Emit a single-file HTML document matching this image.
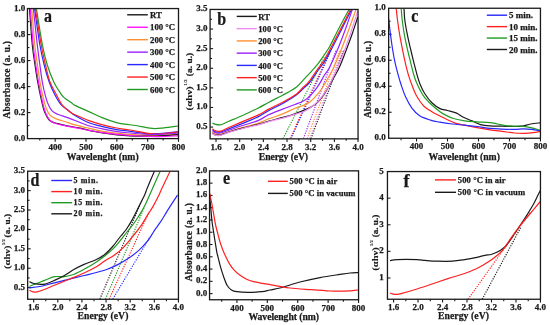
<!DOCTYPE html>
<html><head><meta charset="utf-8"><style>
html,body{margin:0;padding:0;background:#fff;width:550px;height:325px;overflow:hidden}
svg{display:block;will-change:transform;filter:blur(0.3px)}
text{font-family:"Liberation Serif",serif;font-weight:bold;fill:#1a1a1a;stroke:#1a1a1a;stroke-width:0.25px}
</style></head><body>
<svg xmlns="http://www.w3.org/2000/svg" width="550" height="325" viewBox="0 0 550 325">
<text x="55.19" y="149.80" font-size="9" text-anchor="middle" >400</text>
<text x="86.02" y="149.80" font-size="9" text-anchor="middle" >500</text>
<text x="116.85" y="149.80" font-size="9" text-anchor="middle" >600</text>
<text x="147.67" y="149.80" font-size="9" text-anchor="middle" >700</text>
<text x="178.50" y="149.80" font-size="9" text-anchor="middle" >800</text>
<text x="25.15" y="140.60" font-size="9" text-anchor="end" >0.0</text>
<text x="25.15" y="114.59" font-size="9" text-anchor="end" >0.2</text>
<text x="25.15" y="88.58" font-size="9" text-anchor="end" >0.4</text>
<text x="25.15" y="62.57" font-size="9" text-anchor="end" >0.6</text>
<text x="25.15" y="36.56" font-size="9" text-anchor="end" >0.8</text>
<text x="25.15" y="10.55" font-size="9" text-anchor="end" >1.0</text>
<line x1="55.19" y1="138.60" x2="55.19" y2="141.80" stroke="#1a1a1a" stroke-width="1.1"/>
<line x1="86.02" y1="138.60" x2="86.02" y2="141.80" stroke="#1a1a1a" stroke-width="1.1"/>
<line x1="116.85" y1="138.60" x2="116.85" y2="141.80" stroke="#1a1a1a" stroke-width="1.1"/>
<line x1="147.67" y1="138.60" x2="147.67" y2="141.80" stroke="#1a1a1a" stroke-width="1.1"/>
<line x1="178.50" y1="138.60" x2="178.50" y2="141.80" stroke="#1a1a1a" stroke-width="1.1"/>
<line x1="39.78" y1="138.60" x2="39.78" y2="140.58" stroke="#1a1a1a" stroke-width="1.1"/>
<line x1="70.61" y1="138.60" x2="70.61" y2="140.58" stroke="#1a1a1a" stroke-width="1.1"/>
<line x1="101.43" y1="138.60" x2="101.43" y2="140.58" stroke="#1a1a1a" stroke-width="1.1"/>
<line x1="132.26" y1="138.60" x2="132.26" y2="140.58" stroke="#1a1a1a" stroke-width="1.1"/>
<line x1="163.09" y1="138.60" x2="163.09" y2="140.58" stroke="#1a1a1a" stroke-width="1.1"/>
<line x1="27.45" y1="112.59" x2="30.45" y2="112.59" stroke="#1a1a1a" stroke-width="1.1"/>
<line x1="27.45" y1="86.58" x2="30.45" y2="86.58" stroke="#1a1a1a" stroke-width="1.1"/>
<line x1="27.45" y1="60.57" x2="30.45" y2="60.57" stroke="#1a1a1a" stroke-width="1.1"/>
<line x1="27.45" y1="34.56" x2="30.45" y2="34.56" stroke="#1a1a1a" stroke-width="1.1"/>
<line x1="27.45" y1="125.59" x2="29.40" y2="125.59" stroke="#1a1a1a" stroke-width="1.1"/>
<line x1="27.45" y1="99.59" x2="29.40" y2="99.59" stroke="#1a1a1a" stroke-width="1.1"/>
<line x1="27.45" y1="73.58" x2="29.40" y2="73.58" stroke="#1a1a1a" stroke-width="1.1"/>
<line x1="27.45" y1="47.57" x2="29.40" y2="47.57" stroke="#1a1a1a" stroke-width="1.1"/>
<line x1="27.45" y1="21.56" x2="29.40" y2="21.56" stroke="#1a1a1a" stroke-width="1.1"/>
<text x="66.80" y="159.75" font-size="9.7" text-anchor="start" textLength="71.90" lengthAdjust="spacing">Wavelenght (nm)</text>
<text transform="translate(10.20,118.50) rotate(-90)" font-size="9.3" text-anchor="start" textLength="77.40" lengthAdjust="spacing" >Absorbance (a. u.)</text>
<text transform="translate(43.90,21.60) scale(0.88,1)" font-size="18.2" text-anchor="start">a</text>
<text x="216.02" y="150.05" font-size="9" text-anchor="middle" >1.6</text>
<text x="239.69" y="150.05" font-size="9" text-anchor="middle" >2.0</text>
<text x="263.36" y="150.05" font-size="9" text-anchor="middle" >2.4</text>
<text x="287.03" y="150.05" font-size="9" text-anchor="middle" >2.8</text>
<text x="310.71" y="150.05" font-size="9" text-anchor="middle" >3.2</text>
<text x="334.38" y="150.05" font-size="9" text-anchor="middle" >3.6</text>
<text x="358.05" y="150.05" font-size="9" text-anchor="middle" >4.0</text>
<text x="207.40" y="129.09" font-size="9" text-anchor="end" >0.5</text>
<text x="207.40" y="109.48" font-size="9" text-anchor="end" >1.0</text>
<text x="207.40" y="89.87" font-size="9" text-anchor="end" >1.5</text>
<text x="207.40" y="70.27" font-size="9" text-anchor="end" >2.0</text>
<text x="207.40" y="50.66" font-size="9" text-anchor="end" >2.5</text>
<text x="207.40" y="31.06" font-size="9" text-anchor="end" >3.0</text>
<text x="207.40" y="11.45" font-size="9" text-anchor="end" >3.5</text>
<line x1="216.02" y1="138.85" x2="216.02" y2="142.05" stroke="#1a1a1a" stroke-width="1.1"/>
<line x1="239.69" y1="138.85" x2="239.69" y2="142.05" stroke="#1a1a1a" stroke-width="1.1"/>
<line x1="263.36" y1="138.85" x2="263.36" y2="142.05" stroke="#1a1a1a" stroke-width="1.1"/>
<line x1="287.03" y1="138.85" x2="287.03" y2="142.05" stroke="#1a1a1a" stroke-width="1.1"/>
<line x1="310.71" y1="138.85" x2="310.71" y2="142.05" stroke="#1a1a1a" stroke-width="1.1"/>
<line x1="334.38" y1="138.85" x2="334.38" y2="142.05" stroke="#1a1a1a" stroke-width="1.1"/>
<line x1="358.05" y1="138.85" x2="358.05" y2="142.05" stroke="#1a1a1a" stroke-width="1.1"/>
<line x1="227.85" y1="138.85" x2="227.85" y2="140.83" stroke="#1a1a1a" stroke-width="1.1"/>
<line x1="251.53" y1="138.85" x2="251.53" y2="140.83" stroke="#1a1a1a" stroke-width="1.1"/>
<line x1="275.20" y1="138.85" x2="275.20" y2="140.83" stroke="#1a1a1a" stroke-width="1.1"/>
<line x1="298.87" y1="138.85" x2="298.87" y2="140.83" stroke="#1a1a1a" stroke-width="1.1"/>
<line x1="322.54" y1="138.85" x2="322.54" y2="140.83" stroke="#1a1a1a" stroke-width="1.1"/>
<line x1="346.21" y1="138.85" x2="346.21" y2="140.83" stroke="#1a1a1a" stroke-width="1.1"/>
<line x1="210.10" y1="127.09" x2="213.10" y2="127.09" stroke="#1a1a1a" stroke-width="1.1"/>
<line x1="210.10" y1="107.48" x2="213.10" y2="107.48" stroke="#1a1a1a" stroke-width="1.1"/>
<line x1="210.10" y1="87.87" x2="213.10" y2="87.87" stroke="#1a1a1a" stroke-width="1.1"/>
<line x1="210.10" y1="68.27" x2="213.10" y2="68.27" stroke="#1a1a1a" stroke-width="1.1"/>
<line x1="210.10" y1="48.66" x2="213.10" y2="48.66" stroke="#1a1a1a" stroke-width="1.1"/>
<line x1="210.10" y1="29.06" x2="213.10" y2="29.06" stroke="#1a1a1a" stroke-width="1.1"/>
<line x1="210.10" y1="117.28" x2="212.05" y2="117.28" stroke="#1a1a1a" stroke-width="1.1"/>
<line x1="210.10" y1="97.68" x2="212.05" y2="97.68" stroke="#1a1a1a" stroke-width="1.1"/>
<line x1="210.10" y1="78.07" x2="212.05" y2="78.07" stroke="#1a1a1a" stroke-width="1.1"/>
<line x1="210.10" y1="58.47" x2="212.05" y2="58.47" stroke="#1a1a1a" stroke-width="1.1"/>
<line x1="210.10" y1="38.86" x2="212.05" y2="38.86" stroke="#1a1a1a" stroke-width="1.1"/>
<line x1="210.10" y1="19.25" x2="212.05" y2="19.25" stroke="#1a1a1a" stroke-width="1.1"/>
<text x="258.80" y="159.70" font-size="9.7" text-anchor="start" textLength="49.30" lengthAdjust="spacing">Energy (eV)</text>
<text transform="translate(191.90,110.40) rotate(-90) scale(1.258,1)" font-size="8.6" text-anchor="start" style="stroke-width:0.1px">(αhν)</text>
<text transform="translate(186.90,85.40) rotate(-90)" font-size="4.6" text-anchor="start" font-weight="normal" style="stroke-width:0.1px">1/2</text>
<text transform="translate(191.90,76.20) rotate(-90)" font-size="9.2" text-anchor="start" textLength="23.30" lengthAdjust="spacing" >(a. u.)</text>
<text transform="translate(217.30,24.50) scale(0.88,1)" font-size="18.2" text-anchor="start">b</text>
<text x="416.53" y="149.45" font-size="9" text-anchor="middle" >400</text>
<text x="447.51" y="149.45" font-size="9" text-anchor="middle" >500</text>
<text x="478.49" y="149.45" font-size="9" text-anchor="middle" >600</text>
<text x="509.47" y="149.45" font-size="9" text-anchor="middle" >700</text>
<text x="540.45" y="149.45" font-size="9" text-anchor="middle" >800</text>
<text x="385.75" y="140.25" font-size="9" text-anchor="end" >0.0</text>
<text x="385.75" y="114.25" font-size="9" text-anchor="end" >0.2</text>
<text x="385.75" y="88.25" font-size="9" text-anchor="end" >0.4</text>
<text x="385.75" y="62.25" font-size="9" text-anchor="end" >0.6</text>
<text x="385.75" y="36.25" font-size="9" text-anchor="end" >0.8</text>
<text x="385.75" y="10.25" font-size="9" text-anchor="end" >1.0</text>
<line x1="416.53" y1="138.25" x2="416.53" y2="141.45" stroke="#1a1a1a" stroke-width="1.1"/>
<line x1="447.51" y1="138.25" x2="447.51" y2="141.45" stroke="#1a1a1a" stroke-width="1.1"/>
<line x1="478.49" y1="138.25" x2="478.49" y2="141.45" stroke="#1a1a1a" stroke-width="1.1"/>
<line x1="509.47" y1="138.25" x2="509.47" y2="141.45" stroke="#1a1a1a" stroke-width="1.1"/>
<line x1="540.45" y1="138.25" x2="540.45" y2="141.45" stroke="#1a1a1a" stroke-width="1.1"/>
<line x1="401.04" y1="138.25" x2="401.04" y2="140.23" stroke="#1a1a1a" stroke-width="1.1"/>
<line x1="432.02" y1="138.25" x2="432.02" y2="140.23" stroke="#1a1a1a" stroke-width="1.1"/>
<line x1="463.00" y1="138.25" x2="463.00" y2="140.23" stroke="#1a1a1a" stroke-width="1.1"/>
<line x1="493.98" y1="138.25" x2="493.98" y2="140.23" stroke="#1a1a1a" stroke-width="1.1"/>
<line x1="524.96" y1="138.25" x2="524.96" y2="140.23" stroke="#1a1a1a" stroke-width="1.1"/>
<line x1="388.65" y1="112.25" x2="391.65" y2="112.25" stroke="#1a1a1a" stroke-width="1.1"/>
<line x1="388.65" y1="86.25" x2="391.65" y2="86.25" stroke="#1a1a1a" stroke-width="1.1"/>
<line x1="388.65" y1="60.25" x2="391.65" y2="60.25" stroke="#1a1a1a" stroke-width="1.1"/>
<line x1="388.65" y1="34.25" x2="391.65" y2="34.25" stroke="#1a1a1a" stroke-width="1.1"/>
<line x1="388.65" y1="125.25" x2="390.60" y2="125.25" stroke="#1a1a1a" stroke-width="1.1"/>
<line x1="388.65" y1="99.25" x2="390.60" y2="99.25" stroke="#1a1a1a" stroke-width="1.1"/>
<line x1="388.65" y1="73.25" x2="390.60" y2="73.25" stroke="#1a1a1a" stroke-width="1.1"/>
<line x1="388.65" y1="47.25" x2="390.60" y2="47.25" stroke="#1a1a1a" stroke-width="1.1"/>
<line x1="388.65" y1="21.25" x2="390.60" y2="21.25" stroke="#1a1a1a" stroke-width="1.1"/>
<text x="428.50" y="159.60" font-size="9.7" text-anchor="start" textLength="71.40" lengthAdjust="spacing">Wavelenght (nm)</text>
<text transform="translate(371.30,118.10) rotate(-90)" font-size="9.3" text-anchor="start" textLength="77.20" lengthAdjust="spacing" >Absorbance (a. u.)</text>
<text transform="translate(411.20,21.90) scale(0.88,1)" font-size="18.2" text-anchor="start">c</text>
<text x="33.68" y="310.45" font-size="9" text-anchor="middle" >1.6</text>
<text x="57.81" y="310.45" font-size="9" text-anchor="middle" >2.0</text>
<text x="81.94" y="310.45" font-size="9" text-anchor="middle" >2.4</text>
<text x="106.07" y="310.45" font-size="9" text-anchor="middle" >2.8</text>
<text x="130.19" y="310.45" font-size="9" text-anchor="middle" >3.2</text>
<text x="154.32" y="310.45" font-size="9" text-anchor="middle" >3.6</text>
<text x="178.45" y="310.45" font-size="9" text-anchor="middle" >4.0</text>
<text x="25.05" y="289.61" font-size="9" text-anchor="end" >0.5</text>
<text x="25.05" y="270.21" font-size="9" text-anchor="end" >1.0</text>
<text x="25.05" y="250.81" font-size="9" text-anchor="end" >1.5</text>
<text x="25.05" y="231.40" font-size="9" text-anchor="end" >2.0</text>
<text x="25.05" y="212.00" font-size="9" text-anchor="end" >2.5</text>
<text x="25.05" y="192.60" font-size="9" text-anchor="end" >3.0</text>
<text x="25.05" y="173.20" font-size="9" text-anchor="end" >3.5</text>
<line x1="33.68" y1="299.25" x2="33.68" y2="302.45" stroke="#1a1a1a" stroke-width="1.1"/>
<line x1="57.81" y1="299.25" x2="57.81" y2="302.45" stroke="#1a1a1a" stroke-width="1.1"/>
<line x1="81.94" y1="299.25" x2="81.94" y2="302.45" stroke="#1a1a1a" stroke-width="1.1"/>
<line x1="106.07" y1="299.25" x2="106.07" y2="302.45" stroke="#1a1a1a" stroke-width="1.1"/>
<line x1="130.19" y1="299.25" x2="130.19" y2="302.45" stroke="#1a1a1a" stroke-width="1.1"/>
<line x1="154.32" y1="299.25" x2="154.32" y2="302.45" stroke="#1a1a1a" stroke-width="1.1"/>
<line x1="178.45" y1="299.25" x2="178.45" y2="302.45" stroke="#1a1a1a" stroke-width="1.1"/>
<line x1="45.75" y1="299.25" x2="45.75" y2="301.23" stroke="#1a1a1a" stroke-width="1.1"/>
<line x1="69.87" y1="299.25" x2="69.87" y2="301.23" stroke="#1a1a1a" stroke-width="1.1"/>
<line x1="94.00" y1="299.25" x2="94.00" y2="301.23" stroke="#1a1a1a" stroke-width="1.1"/>
<line x1="118.13" y1="299.25" x2="118.13" y2="301.23" stroke="#1a1a1a" stroke-width="1.1"/>
<line x1="142.26" y1="299.25" x2="142.26" y2="301.23" stroke="#1a1a1a" stroke-width="1.1"/>
<line x1="166.39" y1="299.25" x2="166.39" y2="301.23" stroke="#1a1a1a" stroke-width="1.1"/>
<line x1="27.65" y1="287.61" x2="30.65" y2="287.61" stroke="#1a1a1a" stroke-width="1.1"/>
<line x1="27.65" y1="268.21" x2="30.65" y2="268.21" stroke="#1a1a1a" stroke-width="1.1"/>
<line x1="27.65" y1="248.81" x2="30.65" y2="248.81" stroke="#1a1a1a" stroke-width="1.1"/>
<line x1="27.65" y1="229.40" x2="30.65" y2="229.40" stroke="#1a1a1a" stroke-width="1.1"/>
<line x1="27.65" y1="210.00" x2="30.65" y2="210.00" stroke="#1a1a1a" stroke-width="1.1"/>
<line x1="27.65" y1="190.60" x2="30.65" y2="190.60" stroke="#1a1a1a" stroke-width="1.1"/>
<line x1="27.65" y1="277.91" x2="29.60" y2="277.91" stroke="#1a1a1a" stroke-width="1.1"/>
<line x1="27.65" y1="258.51" x2="29.60" y2="258.51" stroke="#1a1a1a" stroke-width="1.1"/>
<line x1="27.65" y1="239.11" x2="29.60" y2="239.11" stroke="#1a1a1a" stroke-width="1.1"/>
<line x1="27.65" y1="219.70" x2="29.60" y2="219.70" stroke="#1a1a1a" stroke-width="1.1"/>
<line x1="27.65" y1="200.30" x2="29.60" y2="200.30" stroke="#1a1a1a" stroke-width="1.1"/>
<line x1="27.65" y1="180.90" x2="29.60" y2="180.90" stroke="#1a1a1a" stroke-width="1.1"/>
<text x="77.50" y="318.80" font-size="9.7" text-anchor="start" textLength="50.90" lengthAdjust="spacing">Energy (eV)</text>
<text transform="translate(10.00,269.00) rotate(-90) scale(1.226,1)" font-size="8.6" text-anchor="start" style="stroke-width:0.1px">(αhν)</text>
<text transform="translate(5.00,245.00) rotate(-90)" font-size="4.6" text-anchor="start" font-weight="normal" style="stroke-width:0.1px">1/2</text>
<text transform="translate(10.00,237.50) rotate(-90)" font-size="9.2" text-anchor="start" textLength="23.70" lengthAdjust="spacing" >(a. u.)</text>
<text transform="translate(30.60,185.90) scale(0.88,1)" font-size="18.2" text-anchor="start">d</text>
<text x="236.92" y="310.95" font-size="9" text-anchor="middle" >400</text>
<text x="267.33" y="310.95" font-size="9" text-anchor="middle" >500</text>
<text x="297.73" y="310.95" font-size="9" text-anchor="middle" >600</text>
<text x="328.14" y="310.95" font-size="9" text-anchor="middle" >700</text>
<text x="358.55" y="310.95" font-size="9" text-anchor="middle" >800</text>
<text x="207.35" y="295.61" font-size="9" text-anchor="end" >0.0</text>
<text x="207.35" y="283.34" font-size="9" text-anchor="end" >0.2</text>
<text x="207.35" y="271.06" font-size="9" text-anchor="end" >0.4</text>
<text x="207.35" y="258.78" font-size="9" text-anchor="end" >0.6</text>
<text x="207.35" y="246.51" font-size="9" text-anchor="end" >0.8</text>
<text x="207.35" y="234.23" font-size="9" text-anchor="end" >1.0</text>
<text x="207.35" y="221.95" font-size="9" text-anchor="end" >1.2</text>
<text x="207.35" y="209.68" font-size="9" text-anchor="end" >1.4</text>
<text x="207.35" y="197.40" font-size="9" text-anchor="end" >1.6</text>
<text x="207.35" y="185.13" font-size="9" text-anchor="end" >1.8</text>
<text x="207.35" y="172.85" font-size="9" text-anchor="end" >2.0</text>
<line x1="236.92" y1="299.75" x2="236.92" y2="302.95" stroke="#1a1a1a" stroke-width="1.1"/>
<line x1="267.33" y1="299.75" x2="267.33" y2="302.95" stroke="#1a1a1a" stroke-width="1.1"/>
<line x1="297.73" y1="299.75" x2="297.73" y2="302.95" stroke="#1a1a1a" stroke-width="1.1"/>
<line x1="328.14" y1="299.75" x2="328.14" y2="302.95" stroke="#1a1a1a" stroke-width="1.1"/>
<line x1="358.55" y1="299.75" x2="358.55" y2="302.95" stroke="#1a1a1a" stroke-width="1.1"/>
<line x1="221.71" y1="299.75" x2="221.71" y2="301.73" stroke="#1a1a1a" stroke-width="1.1"/>
<line x1="252.12" y1="299.75" x2="252.12" y2="301.73" stroke="#1a1a1a" stroke-width="1.1"/>
<line x1="282.53" y1="299.75" x2="282.53" y2="301.73" stroke="#1a1a1a" stroke-width="1.1"/>
<line x1="312.94" y1="299.75" x2="312.94" y2="301.73" stroke="#1a1a1a" stroke-width="1.1"/>
<line x1="343.35" y1="299.75" x2="343.35" y2="301.73" stroke="#1a1a1a" stroke-width="1.1"/>
<line x1="209.55" y1="293.61" x2="212.55" y2="293.61" stroke="#1a1a1a" stroke-width="1.1"/>
<line x1="209.55" y1="281.34" x2="212.55" y2="281.34" stroke="#1a1a1a" stroke-width="1.1"/>
<line x1="209.55" y1="269.06" x2="212.55" y2="269.06" stroke="#1a1a1a" stroke-width="1.1"/>
<line x1="209.55" y1="256.78" x2="212.55" y2="256.78" stroke="#1a1a1a" stroke-width="1.1"/>
<line x1="209.55" y1="244.51" x2="212.55" y2="244.51" stroke="#1a1a1a" stroke-width="1.1"/>
<line x1="209.55" y1="232.23" x2="212.55" y2="232.23" stroke="#1a1a1a" stroke-width="1.1"/>
<line x1="209.55" y1="219.95" x2="212.55" y2="219.95" stroke="#1a1a1a" stroke-width="1.1"/>
<line x1="209.55" y1="207.68" x2="212.55" y2="207.68" stroke="#1a1a1a" stroke-width="1.1"/>
<line x1="209.55" y1="195.40" x2="212.55" y2="195.40" stroke="#1a1a1a" stroke-width="1.1"/>
<line x1="209.55" y1="183.13" x2="212.55" y2="183.13" stroke="#1a1a1a" stroke-width="1.1"/>
<text x="248.50" y="320.00" font-size="9.7" text-anchor="start" textLength="70.50" lengthAdjust="spacing">Wavelenght (nm)</text>
<text transform="translate(191.80,281.30) rotate(-90)" font-size="9.3" text-anchor="start" textLength="78.10" lengthAdjust="spacing" >Absorbance (a. u.)</text>
<text transform="translate(223.10,183.50) scale(0.88,1)" font-size="18.2" text-anchor="start">e</text>
<text x="393.57" y="310.45" font-size="9" text-anchor="middle" >1.6</text>
<text x="418.05" y="310.45" font-size="9" text-anchor="middle" >2.0</text>
<text x="442.53" y="310.45" font-size="9" text-anchor="middle" >2.4</text>
<text x="467.01" y="310.45" font-size="9" text-anchor="middle" >2.8</text>
<text x="491.49" y="310.45" font-size="9" text-anchor="middle" >3.2</text>
<text x="515.97" y="310.45" font-size="9" text-anchor="middle" >3.6</text>
<text x="540.45" y="310.45" font-size="9" text-anchor="middle" >4.0</text>
<text x="383.65" y="279.97" font-size="9" text-anchor="end" font-weight="normal">1</text>
<text x="383.65" y="253.36" font-size="9" text-anchor="end" font-weight="normal">2</text>
<text x="383.65" y="226.76" font-size="9" text-anchor="end" font-weight="normal">3</text>
<text x="383.65" y="200.15" font-size="9" text-anchor="end" font-weight="normal">4</text>
<text x="383.65" y="173.55" font-size="9" text-anchor="end" font-weight="normal">5</text>
<line x1="393.57" y1="299.25" x2="393.57" y2="302.45" stroke="#1a1a1a" stroke-width="1.1"/>
<line x1="418.05" y1="299.25" x2="418.05" y2="302.45" stroke="#1a1a1a" stroke-width="1.1"/>
<line x1="442.53" y1="299.25" x2="442.53" y2="302.45" stroke="#1a1a1a" stroke-width="1.1"/>
<line x1="467.01" y1="299.25" x2="467.01" y2="302.45" stroke="#1a1a1a" stroke-width="1.1"/>
<line x1="491.49" y1="299.25" x2="491.49" y2="302.45" stroke="#1a1a1a" stroke-width="1.1"/>
<line x1="515.97" y1="299.25" x2="515.97" y2="302.45" stroke="#1a1a1a" stroke-width="1.1"/>
<line x1="540.45" y1="299.25" x2="540.45" y2="302.45" stroke="#1a1a1a" stroke-width="1.1"/>
<line x1="405.81" y1="299.25" x2="405.81" y2="301.23" stroke="#1a1a1a" stroke-width="1.1"/>
<line x1="430.29" y1="299.25" x2="430.29" y2="301.23" stroke="#1a1a1a" stroke-width="1.1"/>
<line x1="454.77" y1="299.25" x2="454.77" y2="301.23" stroke="#1a1a1a" stroke-width="1.1"/>
<line x1="479.25" y1="299.25" x2="479.25" y2="301.23" stroke="#1a1a1a" stroke-width="1.1"/>
<line x1="503.73" y1="299.25" x2="503.73" y2="301.23" stroke="#1a1a1a" stroke-width="1.1"/>
<line x1="528.21" y1="299.25" x2="528.21" y2="301.23" stroke="#1a1a1a" stroke-width="1.1"/>
<line x1="387.45" y1="277.97" x2="390.45" y2="277.97" stroke="#1a1a1a" stroke-width="1.1"/>
<line x1="387.45" y1="251.36" x2="390.45" y2="251.36" stroke="#1a1a1a" stroke-width="1.1"/>
<line x1="387.45" y1="224.76" x2="390.45" y2="224.76" stroke="#1a1a1a" stroke-width="1.1"/>
<line x1="387.45" y1="198.15" x2="390.45" y2="198.15" stroke="#1a1a1a" stroke-width="1.1"/>
<text x="437.90" y="319.00" font-size="9.7" text-anchor="start" textLength="51.10" lengthAdjust="spacing">Energy (eV)</text>
<text transform="translate(377.70,270.80) rotate(-90) scale(1.237,1)" font-size="8.6" text-anchor="start" style="stroke-width:0.1px">(αhν)</text>
<text transform="translate(372.70,246.10) rotate(-90)" font-size="4.6" text-anchor="start" font-weight="normal" style="stroke-width:0.1px">1/2</text>
<text transform="translate(377.70,237.30) rotate(-90)" font-size="9.2" text-anchor="start" textLength="22.60" lengthAdjust="spacing" >(a. u.)</text>
<text transform="translate(403.60,186.70) scale(1.0,1)" font-size="18.2" text-anchor="start">f</text>
<clipPath id="clipa"><rect x="27.45" y="8.55" width="151.05" height="130.05"/></clipPath>
<clipPath id="clipb"><rect x="210.1" y="9.45" width="147.95" height="129.40"/></clipPath>
<clipPath id="clipc"><rect x="388.65" y="8.25" width="151.80" height="130.00"/></clipPath>
<clipPath id="clipd"><rect x="27.65" y="171.2" width="150.80" height="128.05"/></clipPath>
<clipPath id="clipe"><rect x="209.55" y="170.85" width="149.00" height="128.90"/></clipPath>
<clipPath id="clipf"><rect x="387.45" y="171.55" width="153.00" height="127.70"/></clipPath>
<g clip-path="url(#clipa)">
<path d="M36.40,8.70 C37.40,14.75 40.58,35.62 42.40,45.00 C44.22,54.38 45.40,58.83 47.30,65.00 C49.20,71.17 51.82,77.63 53.80,82.00 C55.78,86.37 57.53,88.63 59.20,91.20 C60.87,93.77 61.75,95.47 63.80,97.40 C65.85,99.33 69.63,101.47 71.50,102.80 C73.37,104.13 72.10,103.93 75.00,105.40 C77.90,106.87 84.28,109.52 88.90,111.60 C93.52,113.68 98.08,116.05 102.70,117.90 C107.32,119.75 112.88,121.65 116.60,122.70 C120.32,123.75 121.80,123.73 125.00,124.20 C128.20,124.67 132.22,124.93 135.80,125.50 C139.38,126.07 143.28,127.07 146.50,127.60 C149.72,128.13 152.22,128.65 155.10,128.70 C157.98,128.75 159.98,128.35 163.80,127.90 C167.62,127.45 175.63,126.32 178.00,126.00" fill="none" stroke="#209a20" stroke-width="1.2" stroke-linejoin="round"/>
<path d="M34.60,8.70 C35.48,14.75 38.30,35.62 39.90,45.00 C41.50,54.38 42.65,58.83 44.20,65.00 C45.75,71.17 47.47,77.12 49.20,82.00 C50.93,86.88 52.67,90.58 54.60,94.30 C56.53,98.02 58.48,101.60 60.80,104.30 C63.12,107.00 66.13,108.63 68.50,110.50 C70.87,112.37 71.60,113.47 75.00,115.50 C78.40,117.53 84.28,120.85 88.90,122.70 C93.52,124.55 98.08,125.45 102.70,126.60 C107.32,127.75 112.05,128.82 116.60,129.60 C121.15,130.38 125.02,130.65 130.00,131.30 C134.98,131.95 141.50,133.13 146.50,133.50 C151.50,133.87 154.75,133.80 160.00,133.50 C165.25,133.20 175.00,132.00 178.00,131.70" fill="none" stroke="#2828ff" stroke-width="1.2" stroke-linejoin="round"/>
<path d="M35.40,8.70 C36.37,14.75 39.52,35.62 41.20,45.00 C42.88,54.38 44.03,58.83 45.50,65.00 C46.97,71.17 48.22,77.12 50.00,82.00 C51.78,86.88 54.15,90.45 56.20,94.30 C58.25,98.15 60.00,102.15 62.30,105.10 C64.60,108.05 67.88,110.38 70.00,112.00 C72.12,113.62 71.85,113.37 75.00,114.80 C78.15,116.23 84.28,118.93 88.90,120.60 C93.52,122.27 98.08,123.57 102.70,124.80 C107.32,126.03 112.05,127.13 116.60,128.00 C121.15,128.87 125.02,129.13 130.00,130.00 C134.98,130.87 141.95,132.52 146.50,133.20 C151.05,133.88 153.72,134.10 157.30,134.10 C160.88,134.10 164.55,133.57 168.00,133.20 C171.45,132.83 176.33,132.12 178.00,131.90" fill="none" stroke="#ff2020" stroke-width="1.2" stroke-linejoin="round"/>
<path d="M33.40,8.70 C34.05,14.75 36.22,35.62 37.30,45.00 C38.38,54.38 39.07,58.83 39.90,65.00 C40.73,71.17 41.38,76.87 42.30,82.00 C43.22,87.13 44.37,91.95 45.40,95.80 C46.43,99.65 47.35,102.53 48.50,105.10 C49.65,107.67 50.77,109.67 52.30,111.20 C53.83,112.73 55.27,113.27 57.70,114.30 C60.13,115.33 64.02,116.37 66.90,117.40 C69.78,118.43 71.33,119.10 75.00,120.50 C78.67,121.90 84.28,124.40 88.90,125.80 C93.52,127.20 96.68,127.78 102.70,128.90 C108.72,130.02 116.80,131.55 125.00,132.50 C133.20,133.45 143.07,134.48 151.90,134.60 C160.73,134.72 173.65,133.43 178.00,133.20" fill="none" stroke="#9a20ff" stroke-width="1.2" stroke-linejoin="round"/>
<path d="M31.70,8.70 C32.22,14.75 33.83,35.62 34.80,45.00 C35.77,54.38 36.63,58.83 37.50,65.00 C38.37,71.17 39.07,76.60 40.00,82.00 C40.93,87.40 42.07,93.03 43.10,97.40 C44.13,101.77 45.05,105.25 46.20,108.20 C47.35,111.15 48.33,113.32 50.00,115.10 C51.67,116.88 53.63,117.80 56.20,118.90 C58.77,120.00 62.27,120.72 65.40,121.70 C68.53,122.68 71.08,123.72 75.00,124.80 C78.92,125.88 84.28,127.12 88.90,128.20 C93.52,129.28 96.18,130.28 102.70,131.30 C109.22,132.32 118.90,133.57 128.00,134.30 C137.10,135.03 148.97,135.70 157.30,135.70 C165.63,135.70 174.55,134.53 178.00,134.30" fill="none" stroke="#ff9030" stroke-width="1.2" stroke-linejoin="round"/>
<path d="M29.50,8.70 C29.97,14.75 31.38,35.62 32.30,45.00 C33.22,54.38 34.10,58.83 35.00,65.00 C35.90,71.17 36.73,76.60 37.70,82.00 C38.67,87.40 39.78,92.78 40.80,97.40 C41.82,102.02 42.78,106.50 43.80,109.70 C44.82,112.90 45.87,114.75 46.90,116.60 C47.93,118.45 48.72,119.77 50.00,120.80 C51.28,121.83 52.80,122.22 54.60,122.80 C56.40,123.38 58.23,123.72 60.80,124.30 C63.37,124.88 66.80,125.65 70.00,126.30 C73.20,126.95 74.55,127.10 80.00,128.20 C85.45,129.30 94.37,131.62 102.70,132.90 C111.03,134.18 120.95,135.38 130.00,135.90 C139.05,136.42 149.00,136.22 157.00,136.00 C165.00,135.78 174.50,134.83 178.00,134.60" fill="none" stroke="#1a1a1a" stroke-width="1.2" stroke-linejoin="round"/>
<path d="M30.30,8.70 C30.78,14.75 32.28,35.62 33.20,45.00 C34.12,54.38 34.92,58.83 35.80,65.00 C36.68,71.17 37.55,76.60 38.50,82.00 C39.45,87.40 40.50,92.78 41.50,97.40 C42.50,102.02 43.50,106.47 44.50,109.70 C45.50,112.93 46.45,114.87 47.50,116.80 C48.55,118.73 49.47,120.18 50.80,121.30 C52.13,122.42 53.63,122.85 55.50,123.50 C57.37,124.15 58.75,124.52 62.00,125.20 C65.25,125.88 70.52,126.75 75.00,127.60 C79.48,128.45 84.28,129.45 88.90,130.30 C93.52,131.15 95.85,131.83 102.70,132.70 C109.55,133.57 120.90,134.85 130.00,135.50 C139.10,136.15 149.30,136.55 157.30,136.60 C165.30,136.65 174.55,135.93 178.00,135.80" fill="none" stroke="#ff10ff" stroke-width="1.2" stroke-linejoin="round"/>
</g>
<g clip-path="url(#clipb)">
<line x1="283.00" y1="138.60" x2="324.93" y2="56.00" stroke="#209a20" stroke-width="1.15" stroke-dasharray="1.2,1.3"/>
<line x1="290.10" y1="138.60" x2="330.37" y2="50.00" stroke="#ff2020" stroke-width="1.15" stroke-dasharray="1.2,1.3"/>
<line x1="291.00" y1="138.60" x2="331.27" y2="50.00" stroke="#2828ff" stroke-width="1.15" stroke-dasharray="1.2,1.3"/>
<line x1="303.40" y1="138.60" x2="336.21" y2="50.00" stroke="#9a20ff" stroke-width="1.15" stroke-dasharray="1.2,1.3"/>
<line x1="307.10" y1="138.60" x2="339.91" y2="50.00" stroke="#ff9030" stroke-width="1.15" stroke-dasharray="1.2,1.3"/>
<line x1="309.50" y1="138.60" x2="342.31" y2="50.00" stroke="#f08cf0" stroke-width="1.15" stroke-dasharray="1.2,1.3"/>
<line x1="311.00" y1="138.60" x2="343.81" y2="50.00" stroke="#1a1a1a" stroke-width="1.15" stroke-dasharray="1.2,1.3"/>
<path d="M212.40,123.00 C212.83,123.20 213.65,123.90 215.00,124.20 C216.35,124.50 218.20,125.28 220.50,124.80 C222.80,124.32 225.12,122.85 228.80,121.30 C232.48,119.75 237.73,117.68 242.60,115.50 C247.47,113.32 253.62,110.42 258.00,108.20 C262.38,105.98 264.78,104.37 268.90,102.20 C273.02,100.03 278.08,97.75 282.70,95.20 C287.32,92.65 292.88,89.73 296.60,86.90 C300.32,84.07 302.60,80.72 305.00,78.20 C307.40,75.68 308.95,74.05 311.00,71.80 C313.05,69.55 315.22,67.33 317.30,64.70 C319.38,62.07 321.48,58.95 323.50,56.00 C325.52,53.05 327.32,50.67 329.40,47.00 C331.48,43.33 333.82,38.25 336.00,34.00 C338.18,29.75 340.25,25.72 342.50,21.50 C344.75,17.28 348.33,10.83 349.50,8.70" fill="none" stroke="#209a20" stroke-width="1.2" stroke-linejoin="round"/>
<path d="M212.40,129.80 C212.83,130.10 213.77,131.22 215.00,131.60 C216.23,131.98 217.50,132.55 219.80,132.10 C222.10,131.65 225.00,130.35 228.80,128.90 C232.60,127.45 237.73,125.40 242.60,123.40 C247.47,121.40 253.62,119.05 258.00,116.90 C262.38,114.75 264.78,112.73 268.90,110.50 C273.02,108.27 278.08,106.12 282.70,103.50 C287.32,100.88 293.22,97.25 296.60,94.80 C299.98,92.35 300.85,90.85 303.00,88.80 C305.15,86.75 307.00,85.55 309.50,82.50 C312.00,79.45 315.50,74.00 318.00,70.50 C320.50,67.00 322.12,65.33 324.50,61.50 C326.88,57.67 329.93,51.92 332.30,47.50 C334.67,43.08 336.50,39.33 338.70,35.00 C340.90,30.67 343.28,25.88 345.50,21.50 C347.72,17.12 350.92,10.83 352.00,8.70" fill="none" stroke="#2828ff" stroke-width="1.2" stroke-linejoin="round"/>
<path d="M212.40,128.80 C212.83,129.08 213.77,130.08 215.00,130.50 C216.23,130.92 217.50,131.80 219.80,131.30 C222.10,130.80 225.00,129.12 228.80,127.50 C232.60,125.88 237.73,123.67 242.60,121.60 C247.47,119.53 253.62,117.18 258.00,115.10 C262.38,113.02 264.78,111.25 268.90,109.10 C273.02,106.95 278.08,104.73 282.70,102.20 C287.32,99.67 293.22,96.35 296.60,93.90 C299.98,91.45 300.98,89.50 303.00,87.50 C305.02,85.50 306.32,84.88 308.70,81.90 C311.08,78.92 314.83,73.08 317.30,69.60 C319.77,66.12 321.22,64.68 323.50,61.00 C325.78,57.32 328.67,51.83 331.00,47.50 C333.33,43.17 335.25,39.33 337.50,35.00 C339.75,30.67 342.25,25.88 344.50,21.50 C346.75,17.12 349.92,10.83 351.00,8.70" fill="none" stroke="#ff2020" stroke-width="1.2" stroke-linejoin="round"/>
<path d="M212.40,130.80 C212.83,131.10 213.77,132.22 215.00,132.60 C216.23,132.98 217.50,133.48 219.80,133.10 C222.10,132.72 225.00,131.57 228.80,130.30 C232.60,129.03 237.73,127.12 242.60,125.50 C247.47,123.88 253.62,122.42 258.00,120.60 C262.38,118.78 264.78,116.52 268.90,114.60 C273.02,112.68 278.35,110.78 282.70,109.10 C287.05,107.42 291.72,105.77 295.00,104.50 C298.28,103.23 300.35,102.52 302.40,101.50 C304.45,100.48 305.45,99.95 307.30,98.40 C309.15,96.85 311.45,94.67 313.50,92.20 C315.55,89.73 317.77,86.47 319.60,83.60 C321.43,80.73 322.83,77.73 324.50,75.00 C326.17,72.27 327.30,71.73 329.60,67.20 C331.90,62.67 335.65,54.17 338.30,47.80 C340.95,41.43 343.12,35.52 345.50,29.00 C347.88,22.48 351.42,12.08 352.60,8.70" fill="none" stroke="#9a20ff" stroke-width="1.2" stroke-linejoin="round"/>
<path d="M212.40,132.00 C212.83,132.33 213.77,133.58 215.00,134.00 C216.23,134.42 217.50,134.88 219.80,134.50 C222.10,134.12 225.00,132.87 228.80,131.70 C232.60,130.53 237.73,128.88 242.60,127.50 C247.47,126.12 253.62,124.85 258.00,123.40 C262.38,121.95 264.78,120.38 268.90,118.80 C273.02,117.22 278.35,115.67 282.70,113.90 C287.05,112.13 291.72,109.55 295.00,108.20 C298.28,106.85 299.93,106.82 302.40,105.80 C304.87,104.78 307.33,103.95 309.80,102.10 C312.27,100.25 314.92,97.38 317.20,94.70 C319.48,92.02 321.45,89.20 323.50,86.00 C325.55,82.80 327.87,78.43 329.50,75.50 C331.13,72.57 331.97,71.23 333.30,68.40 C334.63,65.57 336.10,61.82 337.50,58.50 C338.90,55.18 339.78,53.42 341.70,48.50 C343.62,43.58 346.57,35.63 349.00,29.00 C351.43,22.37 355.08,12.08 356.30,8.70" fill="none" stroke="#ff9030" stroke-width="1.2" stroke-linejoin="round"/>
<path d="M212.40,133.00 C212.83,133.30 213.77,134.47 215.00,134.80 C216.23,135.13 217.50,135.47 219.80,135.00 C222.10,134.53 225.00,133.15 228.80,132.00 C232.60,130.85 237.73,129.37 242.60,128.10 C247.47,126.83 253.62,125.57 258.00,124.40 C262.38,123.23 264.78,122.27 268.90,121.10 C273.02,119.93 278.73,118.48 282.70,117.40 C286.67,116.32 289.42,115.68 292.70,114.60 C295.98,113.52 299.55,112.07 302.40,110.90 C305.25,109.73 307.55,108.77 309.80,107.60 C312.05,106.43 313.85,105.63 315.90,103.90 C317.95,102.17 320.05,99.97 322.10,97.20 C324.15,94.43 326.35,90.38 328.20,87.30 C330.05,84.22 331.32,82.08 333.20,78.70 C335.08,75.32 337.20,72.12 339.50,67.00 C341.80,61.88 344.83,53.67 347.00,48.00 C349.17,42.33 350.70,38.17 352.50,33.00 C354.30,27.83 356.92,19.67 357.80,17.00" fill="none" stroke="#1a1a1a" stroke-width="1.2" stroke-linejoin="round"/>
<path d="M212.40,133.40 C212.83,133.70 213.77,134.87 215.00,135.20 C216.23,135.53 217.50,135.87 219.80,135.40 C222.10,134.93 225.00,133.55 228.80,132.40 C232.60,131.25 237.73,129.77 242.60,128.50 C247.47,127.23 253.62,125.97 258.00,124.80 C262.38,123.63 264.78,122.62 268.90,121.50 C273.02,120.38 278.08,119.37 282.70,118.10 C287.32,116.83 292.88,115.08 296.60,113.90 C300.32,112.72 302.18,112.45 305.00,111.00 C307.82,109.55 311.07,107.10 313.50,105.20 C315.93,103.30 317.55,101.97 319.60,99.60 C321.65,97.23 323.82,94.18 325.80,91.00 C327.78,87.82 329.55,84.33 331.50,80.50 C333.45,76.67 335.33,73.00 337.50,68.00 C339.67,63.00 342.25,56.50 344.50,50.50 C346.75,44.50 348.78,38.58 351.00,32.00 C353.22,25.42 356.67,14.50 357.80,11.00" fill="none" stroke="#f08cf0" stroke-width="1.2" stroke-linejoin="round"/>
</g>
<g clip-path="url(#clipc)">
<path d="M404.00,8.30 C404.13,10.25 404.22,15.48 404.80,20.00 C405.38,24.52 406.50,30.40 407.50,35.40 C408.50,40.40 409.75,45.52 410.80,50.00 C411.85,54.48 412.77,58.20 413.80,62.30 C414.83,66.40 415.90,70.82 417.00,74.60 C418.10,78.38 419.07,81.77 420.40,85.00 C421.73,88.23 423.08,91.05 425.00,94.00 C426.92,96.95 429.40,100.27 431.90,102.70 C434.40,105.13 437.42,107.30 440.00,108.60 C442.58,109.90 444.73,109.78 447.40,110.50 C450.07,111.22 453.33,111.78 456.00,112.90 C458.67,114.02 460.73,115.87 463.40,117.20 C466.07,118.53 469.13,119.67 472.00,120.90 C474.87,122.13 477.60,123.77 480.60,124.60 C483.60,125.43 486.38,125.63 490.00,125.90 C493.62,126.17 498.20,126.10 502.30,126.20 C506.40,126.30 511.32,126.52 514.60,126.50 C517.88,126.48 519.32,126.52 522.00,126.10 C524.68,125.68 527.67,124.55 530.70,124.00 C533.73,123.45 538.62,123.00 540.20,122.80" fill="none" stroke="#1a1a1a" stroke-width="1.2" stroke-linejoin="round"/>
<path d="M401.20,8.30 C401.37,10.25 401.65,15.48 402.20,20.00 C402.75,24.52 403.60,30.40 404.50,35.40 C405.40,40.40 406.58,45.52 407.60,50.00 C408.62,54.48 409.50,57.93 410.60,62.30 C411.70,66.67 413.03,72.42 414.20,76.20 C415.37,79.98 416.05,81.73 417.60,85.00 C419.15,88.27 421.12,92.47 423.50,95.80 C425.88,99.13 429.15,102.35 431.90,105.00 C434.65,107.65 437.62,109.97 440.00,111.70 C442.38,113.43 443.95,114.27 446.20,115.40 C448.45,116.53 450.43,117.58 453.50,118.50 C456.57,119.42 460.68,120.33 464.60,120.90 C468.52,121.47 472.77,121.62 477.00,121.90 C481.23,122.18 486.60,122.25 490.00,122.60 C493.40,122.95 494.52,123.45 497.40,124.00 C500.28,124.55 503.40,125.53 507.30,125.90 C511.20,126.27 516.90,125.90 520.80,126.20 C524.70,126.50 527.47,127.03 530.70,127.70 C533.93,128.37 538.62,129.78 540.20,130.20" fill="none" stroke="#209a20" stroke-width="1.2" stroke-linejoin="round"/>
<path d="M396.20,8.30 C396.42,10.25 396.90,15.48 397.50,20.00 C398.10,24.52 398.95,30.40 399.80,35.40 C400.65,40.40 401.70,45.52 402.60,50.00 C403.50,54.48 404.17,57.93 405.20,62.30 C406.23,66.67 407.62,72.25 408.80,76.20 C409.98,80.15 411.02,82.73 412.30,86.00 C413.58,89.27 414.52,92.38 416.50,95.80 C418.48,99.22 421.37,103.68 424.20,106.50 C427.03,109.32 430.87,111.12 433.50,112.70 C436.13,114.28 437.68,114.83 440.00,116.00 C442.32,117.17 444.73,118.47 447.40,119.70 C450.07,120.93 453.13,122.48 456.00,123.40 C458.87,124.32 461.10,124.48 464.60,125.20 C468.10,125.92 472.77,126.93 477.00,127.70 C481.23,128.47 485.78,129.18 490.00,129.80 C494.22,130.42 498.20,130.87 502.30,131.40 C506.40,131.93 510.90,132.68 514.60,133.00 C518.30,133.32 521.42,133.35 524.50,133.30 C527.58,133.25 530.48,133.02 533.10,132.70 C535.72,132.38 539.02,131.62 540.20,131.40" fill="none" stroke="#ff2020" stroke-width="1.2" stroke-linejoin="round"/>
<path d="M388.60,18.50 C388.93,21.32 389.92,30.15 390.60,35.40 C391.28,40.65 391.97,45.52 392.70,50.00 C393.43,54.48 394.10,58.20 395.00,62.30 C395.90,66.40 397.07,70.82 398.10,74.60 C399.13,78.38 399.92,81.22 401.20,85.00 C402.48,88.78 404.02,93.45 405.80,97.30 C407.58,101.15 409.60,105.02 411.90,108.10 C414.20,111.18 416.52,113.80 419.60,115.80 C422.68,117.80 427.00,119.03 430.40,120.10 C433.80,121.17 436.35,121.55 440.00,122.20 C443.65,122.85 448.20,123.50 452.30,124.00 C456.40,124.50 460.48,124.78 464.60,125.20 C468.72,125.62 472.77,125.97 477.00,126.50 C481.23,127.03 485.78,127.97 490.00,128.40 C494.22,128.83 498.20,128.95 502.30,129.10 C506.40,129.25 511.10,129.35 514.60,129.30 C518.10,129.25 520.42,128.80 523.30,128.80 C526.18,128.80 529.08,128.97 531.90,129.30 C534.72,129.63 538.82,130.55 540.20,130.80" fill="none" stroke="#2828ff" stroke-width="1.2" stroke-linejoin="round"/>
</g>
<g clip-path="url(#clipd)">
<line x1="99.90" y1="299.00" x2="139.50" y2="206.00" stroke="#1a1a1a" stroke-width="1.15" stroke-dasharray="1.2,1.3"/>
<line x1="105.50" y1="299.00" x2="144.50" y2="207.00" stroke="#209a20" stroke-width="1.15" stroke-dasharray="1.2,1.3"/>
<line x1="109.20" y1="299.00" x2="149.00" y2="212.00" stroke="#ff2020" stroke-width="1.15" stroke-dasharray="1.2,1.3"/>
<line x1="112.80" y1="299.00" x2="150.50" y2="236.00" stroke="#2828ff" stroke-width="1.15" stroke-dasharray="1.2,1.3"/>
<path d="M29.50,287.80 C31.22,287.58 35.63,287.33 39.80,286.50 C43.97,285.67 49.58,284.02 54.50,282.80 C59.42,281.58 64.37,280.42 69.30,279.20 C74.23,277.98 79.58,276.62 84.10,275.50 C88.62,274.38 92.53,273.55 96.40,272.50 C100.27,271.45 103.82,270.47 107.30,269.20 C110.78,267.93 113.83,266.67 117.30,264.90 C120.77,263.13 124.52,261.02 128.10,258.60 C131.68,256.18 135.47,253.43 138.80,250.40 C142.13,247.37 145.90,243.07 148.10,240.40 C150.30,237.73 150.85,236.20 152.00,234.40 C153.15,232.60 153.67,231.55 155.00,229.60 C156.33,227.65 158.42,225.05 160.00,222.70 C161.58,220.35 162.92,218.05 164.50,215.50 C166.08,212.95 167.33,210.80 169.50,207.40 C171.67,204.00 176.17,197.15 177.50,195.10" fill="none" stroke="#2828ff" stroke-width="1.2" stroke-linejoin="round"/>
<path d="M29.50,290.20 C30.38,290.53 32.68,292.20 34.80,292.20 C36.92,292.20 38.92,291.35 42.20,290.20 C45.48,289.05 49.98,287.13 54.50,285.30 C59.02,283.47 64.37,281.25 69.30,279.20 C74.23,277.15 79.58,275.07 84.10,273.00 C88.62,270.93 92.92,268.83 96.40,266.80 C99.88,264.77 102.03,262.72 105.00,260.80 C107.97,258.88 111.12,257.55 114.20,255.30 C117.28,253.05 120.42,250.43 123.50,247.30 C126.58,244.17 129.80,240.08 132.70,236.50 C135.60,232.92 138.50,229.23 140.90,225.80 C143.30,222.37 145.05,219.18 147.10,215.90 C149.15,212.62 151.35,209.33 153.20,206.10 C155.05,202.87 156.70,199.55 158.20,196.50 C159.70,193.45 160.20,192.03 162.20,187.80 C164.20,183.57 168.87,173.88 170.20,171.10" fill="none" stroke="#ff2020" stroke-width="1.2" stroke-linejoin="round"/>
<path d="M29.50,286.50 C30.38,286.10 32.27,285.12 34.80,284.10 C37.33,283.08 41.42,281.63 44.70,280.40 C47.98,279.17 51.22,277.32 54.50,276.70 C57.78,276.08 61.12,277.12 64.40,276.70 C67.68,276.28 70.92,275.43 74.20,274.20 C77.48,272.97 80.40,271.35 84.10,269.30 C87.80,267.25 92.92,264.15 96.40,261.90 C99.88,259.65 102.28,257.92 105.00,255.80 C107.72,253.68 110.13,251.77 112.70,249.20 C115.27,246.63 118.15,243.10 120.40,240.40 C122.65,237.70 124.22,235.48 126.20,233.00 C128.18,230.52 130.25,228.25 132.30,225.50 C134.35,222.75 136.45,219.73 138.50,216.50 C140.55,213.27 142.30,210.70 144.60,206.10 C146.90,201.50 149.68,194.73 152.30,188.90 C154.92,183.07 158.97,174.07 160.30,171.10" fill="none" stroke="#209a20" stroke-width="1.2" stroke-linejoin="round"/>
<path d="M29.50,281.60 C30.08,281.88 31.70,282.88 33.00,283.30 C34.30,283.72 35.35,283.97 37.30,284.10 C39.25,284.23 41.83,284.72 44.70,284.10 C47.57,283.48 51.22,281.83 54.50,280.40 C57.78,278.97 61.12,277.35 64.40,275.50 C67.68,273.65 70.92,271.15 74.20,269.30 C77.48,267.45 80.40,266.03 84.10,264.40 C87.80,262.77 92.92,261.20 96.40,259.50 C99.88,257.80 102.28,256.37 105.00,254.20 C107.72,252.03 110.13,249.45 112.70,246.50 C115.27,243.55 118.15,239.33 120.40,236.50 C122.65,233.67 124.22,232.32 126.20,229.50 C128.18,226.68 130.25,223.30 132.30,219.60 C134.35,215.90 136.45,211.40 138.50,207.30 C140.55,203.20 143.12,198.27 144.60,195.00 C146.08,191.73 145.75,191.68 147.40,187.70 C149.05,183.72 153.32,173.87 154.50,171.10" fill="none" stroke="#1a1a1a" stroke-width="1.2" stroke-linejoin="round"/>
</g>
<g clip-path="url(#clipe)">
<path d="M209.60,194.00 C209.75,195.80 210.13,200.55 210.50,204.80 C210.87,209.05 211.47,216.13 211.80,219.50 C212.13,222.87 212.07,222.03 212.50,225.00 C212.93,227.97 213.68,232.78 214.40,237.30 C215.12,241.82 216.28,249.15 216.80,252.10 C217.32,255.05 216.92,252.67 217.50,255.00 C218.08,257.33 219.25,262.40 220.30,266.10 C221.35,269.80 222.65,273.97 223.80,277.20 C224.95,280.43 225.93,283.38 227.20,285.50 C228.47,287.62 229.78,288.87 231.40,289.90 C233.02,290.93 234.13,291.28 236.90,291.70 C239.67,292.12 243.82,292.40 248.00,292.40 C252.18,292.40 258.33,292.10 262.00,291.70 C265.67,291.30 267.00,290.62 270.00,290.00 C273.00,289.38 276.67,288.83 280.00,288.00 C283.33,287.17 286.67,286.00 290.00,285.00 C293.33,284.00 295.00,283.23 300.00,282.00 C305.00,280.77 313.33,278.87 320.00,277.60 C326.67,276.33 335.00,275.17 340.00,274.40 C345.00,273.63 346.97,273.30 350.00,273.00 C353.03,272.70 356.83,272.67 358.20,272.60" fill="none" stroke="#1a1a1a" stroke-width="1.2" stroke-linejoin="round"/>
<path d="M209.60,193.10 C209.97,194.83 211.03,199.50 211.80,203.50 C212.57,207.50 213.57,213.52 214.20,217.10 C214.83,220.68 214.95,222.05 215.60,225.00 C216.25,227.95 217.28,231.72 218.10,234.80 C218.92,237.88 219.48,240.42 220.50,243.50 C221.52,246.58 222.65,249.82 224.20,253.30 C225.75,256.78 228.13,261.58 229.80,264.40 C231.47,267.22 232.55,268.42 234.20,270.20 C235.85,271.98 237.63,273.60 239.70,275.10 C241.77,276.60 244.30,278.12 246.60,279.20 C248.90,280.28 250.93,280.90 253.50,281.60 C256.07,282.30 259.08,282.87 262.00,283.40 C264.92,283.93 268.00,284.30 271.00,284.80 C274.00,285.30 276.83,285.87 280.00,286.40 C283.17,286.93 285.00,287.47 290.00,288.00 C295.00,288.53 303.33,289.10 310.00,289.60 C316.67,290.10 325.00,290.73 330.00,291.00 C335.00,291.27 336.67,291.23 340.00,291.20 C343.33,291.17 346.97,291.00 350.00,290.80 C353.03,290.60 356.83,290.13 358.20,290.00" fill="none" stroke="#ff2020" stroke-width="1.2" stroke-linejoin="round"/>
</g>
<g clip-path="url(#clipf)">
<line x1="468.10" y1="299.20" x2="530.00" y2="212.50" stroke="#ff2020" stroke-width="1.15" stroke-dasharray="1.2,1.3"/>
<line x1="482.20" y1="299.20" x2="521.00" y2="227.00" stroke="#1a1a1a" stroke-width="1.15" stroke-dasharray="1.2,1.3"/>
<path d="M390.00,260.60 C391.17,260.43 392.50,259.77 397.00,259.60 C401.50,259.43 412.33,259.47 417.00,259.60 C421.67,259.73 421.67,260.13 425.00,260.40 C428.33,260.67 432.45,261.07 437.00,261.20 C441.55,261.33 447.70,261.47 452.30,261.20 C456.90,260.93 460.50,260.25 464.60,259.60 C468.70,258.95 473.50,258.02 476.90,257.30 C480.30,256.58 482.52,255.82 485.00,255.30 C487.48,254.78 489.20,255.03 491.80,254.20 C494.40,253.37 498.12,251.83 500.60,250.30 C503.08,248.77 504.30,247.88 506.70,245.00 C509.10,242.12 511.95,237.50 515.00,233.00 C518.05,228.50 522.00,222.67 525.00,218.00 C528.00,213.33 530.83,208.83 533.00,205.00 C535.17,201.17 536.78,197.42 538.00,195.00 C539.22,192.58 539.92,191.25 540.30,190.50" fill="none" stroke="#1a1a1a" stroke-width="1.2" stroke-linejoin="round"/>
<path d="M390.00,293.00 C390.58,293.20 392.33,293.97 393.50,294.20 C394.67,294.43 395.75,294.50 397.00,294.40 C398.25,294.30 397.67,294.50 401.00,293.60 C404.33,292.70 411.33,290.77 417.00,289.00 C422.67,287.23 431.17,284.30 435.00,283.00 C438.83,281.70 437.12,282.15 440.00,281.20 C442.88,280.25 448.20,278.58 452.30,277.30 C456.40,276.02 460.50,274.97 464.60,273.50 C468.70,272.03 473.83,269.88 476.90,268.50 C479.97,267.12 480.22,266.92 483.00,265.20 C485.78,263.48 490.37,260.68 493.60,258.20 C496.83,255.72 499.83,253.17 502.40,250.30 C504.97,247.43 506.23,244.88 509.00,241.00 C511.77,237.12 515.67,231.33 519.00,227.00 C522.33,222.67 525.45,219.25 529.00,215.00 C532.55,210.75 538.42,203.75 540.30,201.50" fill="none" stroke="#ff2020" stroke-width="1.2" stroke-linejoin="round"/>
</g>
<line x1="127.20" y1="14.80" x2="147.80" y2="14.80" stroke="#1a1a1a" stroke-width="1.4"/>
<text x="150.00" y="18.00" font-size="8.75" text-anchor="start" >RT</text>
<line x1="127.20" y1="27.25" x2="147.80" y2="27.25" stroke="#ff10ff" stroke-width="1.4"/>
<text x="150.00" y="30.45" font-size="8.75" text-anchor="start" >100 °C</text>
<line x1="127.20" y1="39.70" x2="147.80" y2="39.70" stroke="#ff9030" stroke-width="1.4"/>
<text x="150.00" y="42.90" font-size="8.75" text-anchor="start" >200 °C</text>
<line x1="127.20" y1="52.15" x2="147.80" y2="52.15" stroke="#9a20ff" stroke-width="1.4"/>
<text x="150.00" y="55.35" font-size="8.75" text-anchor="start" >300 °C</text>
<line x1="127.20" y1="64.60" x2="147.80" y2="64.60" stroke="#2828ff" stroke-width="1.4"/>
<text x="150.00" y="67.80" font-size="8.75" text-anchor="start" >400 °C</text>
<line x1="127.20" y1="77.05" x2="147.80" y2="77.05" stroke="#ff2020" stroke-width="1.4"/>
<text x="150.00" y="80.25" font-size="8.75" text-anchor="start" >500 °C</text>
<line x1="127.20" y1="89.50" x2="147.80" y2="89.50" stroke="#209a20" stroke-width="1.4"/>
<text x="150.00" y="92.70" font-size="8.75" text-anchor="start" >600 °C</text>
<line x1="236.70" y1="16.40" x2="256.80" y2="16.40" stroke="#1a1a1a" stroke-width="1.4"/>
<text x="258.30" y="19.60" font-size="8.6" text-anchor="start" >RT</text>
<line x1="236.70" y1="28.65" x2="256.80" y2="28.65" stroke="#f08cf0" stroke-width="1.4"/>
<text x="258.30" y="31.85" font-size="8.6" text-anchor="start" >100 °C</text>
<line x1="236.70" y1="40.90" x2="256.80" y2="40.90" stroke="#ff9030" stroke-width="1.4"/>
<text x="258.30" y="44.10" font-size="8.6" text-anchor="start" >200 °C</text>
<line x1="236.70" y1="53.15" x2="256.80" y2="53.15" stroke="#9a20ff" stroke-width="1.4"/>
<text x="258.30" y="56.35" font-size="8.6" text-anchor="start" >300 °C</text>
<line x1="236.70" y1="65.40" x2="256.80" y2="65.40" stroke="#2828ff" stroke-width="1.4"/>
<text x="258.30" y="68.60" font-size="8.6" text-anchor="start" >400 °C</text>
<line x1="236.70" y1="77.65" x2="256.80" y2="77.65" stroke="#ff2020" stroke-width="1.4"/>
<text x="258.30" y="80.85" font-size="8.6" text-anchor="start" >500 °C</text>
<line x1="236.70" y1="89.90" x2="256.80" y2="89.90" stroke="#209a20" stroke-width="1.4"/>
<text x="258.30" y="93.10" font-size="8.6" text-anchor="start" >600 °C</text>
<line x1="486.80" y1="15.20" x2="507.10" y2="15.20" stroke="#2828ff" stroke-width="1.4"/>
<text x="509.00" y="18.40" font-size="9" text-anchor="start" >5 min.</text>
<line x1="486.80" y1="26.63" x2="507.10" y2="26.63" stroke="#ff2020" stroke-width="1.4"/>
<text x="509.00" y="29.83" font-size="9" text-anchor="start" >10 min.</text>
<line x1="486.80" y1="38.06" x2="507.10" y2="38.06" stroke="#209a20" stroke-width="1.4"/>
<text x="509.00" y="41.26" font-size="9" text-anchor="start" >15 min.</text>
<line x1="486.80" y1="49.49" x2="507.10" y2="49.49" stroke="#1a1a1a" stroke-width="1.4"/>
<text x="509.00" y="52.69" font-size="9" text-anchor="start" >20 min.</text>
<line x1="51.30" y1="180.50" x2="72.10" y2="180.50" stroke="#2828ff" stroke-width="1.4"/>
<text x="73.60" y="182.90" font-size="8" text-anchor="start" letter-spacing="0.6">5 min.</text>
<line x1="51.30" y1="191.60" x2="72.10" y2="191.60" stroke="#ff2020" stroke-width="1.4"/>
<text x="73.60" y="194.00" font-size="8" text-anchor="start" letter-spacing="0.6">10 min.</text>
<line x1="51.30" y1="202.70" x2="72.10" y2="202.70" stroke="#209a20" stroke-width="1.4"/>
<text x="73.60" y="205.10" font-size="8" text-anchor="start" letter-spacing="0.6">15 min.</text>
<line x1="51.30" y1="213.80" x2="72.10" y2="213.80" stroke="#1a1a1a" stroke-width="1.4"/>
<text x="73.60" y="216.20" font-size="8" text-anchor="start" letter-spacing="0.6">20 min.</text>
<line x1="268.00" y1="181.30" x2="287.80" y2="181.30" stroke="#ff2020" stroke-width="1.4"/>
<text x="289.60" y="183.60" font-size="8.6" text-anchor="start"  textLength="47.70" lengthAdjust="spacing">500 °C in air</text>
<line x1="268.00" y1="193.40" x2="287.80" y2="193.40" stroke="#1a1a1a" stroke-width="1.4"/>
<text x="289.60" y="195.70" font-size="8.6" text-anchor="start"  textLength="65.90" lengthAdjust="spacing">500 °C in vacuum</text>
<line x1="435.00" y1="179.90" x2="456.00" y2="179.90" stroke="#ff2020" stroke-width="1.4"/>
<text x="457.80" y="182.90" font-size="8.6" text-anchor="start"  textLength="47.70" lengthAdjust="spacing">500 °C in air</text>
<line x1="435.00" y1="192.30" x2="456.00" y2="192.30" stroke="#1a1a1a" stroke-width="1.4"/>
<text x="457.80" y="195.30" font-size="8.6" text-anchor="start"  textLength="67.40" lengthAdjust="spacing">500 °C in vacuum</text>
<rect x="27.45" y="8.55" width="151.05" height="130.05" fill="none" stroke="#1a1a1a" stroke-width="1.3"/>
<rect x="210.1" y="9.45" width="147.95" height="129.40" fill="none" stroke="#1a1a1a" stroke-width="1.3"/>
<rect x="388.65" y="8.25" width="151.80" height="130.00" fill="none" stroke="#1a1a1a" stroke-width="1.3"/>
<rect x="27.65" y="171.2" width="150.80" height="128.05" fill="none" stroke="#1a1a1a" stroke-width="1.3"/>
<rect x="209.55" y="170.85" width="149.00" height="128.90" fill="none" stroke="#1a1a1a" stroke-width="1.3"/>
<rect x="387.45" y="171.55" width="153.00" height="127.70" fill="none" stroke="#1a1a1a" stroke-width="1.3"/>
</svg>
</body></html>
